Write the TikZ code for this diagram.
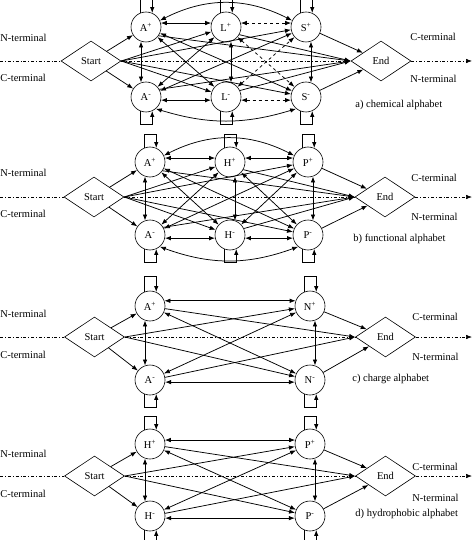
\documentclass[tikz,border=0pt]{standalone}
\usepackage{fontspec}
\setmainfont{Liberation Serif}
\usetikzlibrary{shapes.geometric,arrows.meta}

\begin{document}
\begin{tikzpicture}[x=1pt, y=-1pt, line width=0.75pt, >={Latex[length=6pt,width=4.5pt]},
  every node/.style = {font=\fontsize{10.5}{12}\selectfont},
  state/.style = {circle, draw, line width=0.6pt, minimum size=30pt, inner sep=0pt, fill=white},
  term/.style = {diamond, draw, line width=0.6pt, minimum width=60pt, minimum height=40pt, inner sep=0pt, fill=white},
  lbl/.style = {anchor=west, inner sep=0pt},
  tr/.style = {->}, bi/.style = {<->},
  midline/.style = {dash dot, line width=0.6pt}]
  \useasboundingbox (0,0) rectangle (474,540);

  % a) chemical alphabet
  \node[term] (aSt) at (91,61) {Start};
  \node[term] (aEn) at (381,61) {End};
  \node[state] (aAp) at (146,27) {A\textsuperscript{+}};
  \node[state] (aLp) at (226,27) {L\textsuperscript{+}};
  \node[state] (aSp) at (306,27) {S\textsuperscript{+}};
  \node[state] (aAm) at (146,97) {A\textsuperscript{-}};
  \node[state] (aLm) at (226,97) {L\textsuperscript{-}};
  \node[state] (aSm) at (306,97) {S\textsuperscript{-}};
  \coordinate (aL) at (0,61); \coordinate (aR) at (472,61);
  \draw[midline,->] (aL) -- (aSt.west) (aSt.east) -- (aEn.west) (aEn.east) -- (aR);
  \node[lbl] (aNl) at (0,38) {N-terminal};
  \node[lbl] (aCl) at (0,78) {C-terminal};
  \node[lbl] (aCr) at (410,37) {C-terminal};
  \node[lbl] (aNr) at (410,79) {N-terminal};
  \node[lbl] (aTitle) at (355,105) {a) chemical alphabet};
  \path[tr] (aSt) edge (aAp) edge (aAm);
  \path[tr] (aSt.east) edge (aLp) edge (aSp) edge (aLm) edge (aSm);
  \path[tr] (aAp.-35) edge (aEn.west) (aLp.-30) edge (aEn.west) (aAm.30) edge (aEn.west) (aLm.25) edge (aEn.west);
  \path[tr] (aSp) edge (aEn) (aSm) edge (aEn);
  \path[bi] (aAp.15) edge (aLp.165) (aAm.-12) edge (aLm.-168);
  \path[bi] (aAp.-109) edge (aAm.109) (aLp.-71) edge (aLm.71) (aSp.-71) edge (aSm.71);
  \path[bi] (aAp) edge (aLm) edge (aSm) (aAm) edge (aLp) edge (aSp);
  \path[bi,dashed] (aLp.15) edge (aSp.165) (aLm.-12) edge (aSm.-168) (aLp) edge (aSm) (aLm) edge (aSp);
  \path[bi] (aAp.25) edge[bend left=27] (aSp.155) (aAm.-50) edge[bend right=17] (aSm.-130);
  \draw[tr] (aAp.110) -- ++(0,-13) -| (aAp.66);
  \draw[tr] (aLp.110) -- ++(0,-13) -| (aLp.66);
  \draw[tr] (aSp.110) -- ++(0,-13) -| (aSp.66);
  \draw[tr] (aAm.-110) -- ++(0,13) -| (aAm.-66);
  \draw[tr] (aLm.-110) -- ++(0,13) -| (aLm.-66);
  \draw[tr] (aSm.-110) -- ++(0,13) -| (aSm.-66);

  % b) functional alphabet
  \node[term] (bSt) at (94,197) {Start};
  \node[term] (bEn) at (385,197) {End};
  \node[state] (bAp) at (150,162) {A\textsuperscript{+}};
  \node[state] (bHp) at (230,162) {H\textsuperscript{+}};
  \node[state] (bPp) at (308,162) {P\textsuperscript{+}};
  \node[state] (bAm) at (150,235) {A\textsuperscript{-}};
  \node[state] (bHm) at (230,235) {H\textsuperscript{-}};
  \node[state] (bPm) at (308,235) {P\textsuperscript{-}};
  \coordinate (bL) at (0,197); \coordinate (bR) at (472,197);
  \draw[midline,->] (bL) -- (bSt.west) (bSt.east) -- (bEn.west) (bEn.east) -- (bR);
  \node[lbl] (bNl) at (0,173) {N-terminal};
  \node[lbl] (bCl) at (0,214) {C-terminal};
  \node[lbl] (bCr) at (411,178) {C-terminal};
  \node[lbl] (bNr) at (411,217) {N-terminal};
  \node[lbl] (bTitle) at (353,239) {b) functional alphabet};
  \path[tr] (bSt) edge (bAp) edge (bAm);
  \path[tr] (bSt.east) edge (bHp) edge (bPp) edge (bHm) edge (bPm);
  \path[tr] (bAp.-35) edge (bEn.west) (bHp.-30) edge (bEn.west) (bAm.30) edge (bEn.west) (bHm.25) edge (bEn.west);
  \path[tr] (bPp) edge (bEn) (bPm) edge (bEn);
  \path[bi] (bAp.15) edge (bHp.165) (bHp.15) edge (bPp.165) (bAm.-12) edge (bHm.-168) (bHm.-12) edge (bPm.-168);
  \path[bi] (bAp.-109) edge (bAm.109) (bHp.-71) edge (bHm.71) (bPp.-71) edge (bPm.71);
  \path[bi] (bAp) edge (bHm) edge (bPm) (bAm) edge (bHp) edge (bPp) (bHp) edge (bPm) (bHm) edge (bPp);
  \path[bi] (bAp.25) edge[bend left=27] (bPp.155) (bAm.-50) edge[bend right=20] (bPm.-130);
  \draw[tr] (bAp.110) -- ++(0,-13) -| (bAp.66);
  \draw[tr] (bHp.110) -- ++(0,-13) -| (bHp.66);
  \draw[tr] (bPp.110) -- ++(0,-13) -| (bPp.66);
  \draw[tr] (bAm.-110) -- ++(0,13) -| (bAm.-66);
  \draw[tr] (bHm.-110) -- ++(0,13) -| (bHm.-66);
  \draw[tr] (bPm.-110) -- ++(0,13) -| (bPm.-66);

  % c) charge alphabet
  \node[term] (cSt) at (94.5,337) {Start};
  \node[term] (cEn) at (385.5,337) {End};
  \node[state] (cAp) at (150,306) {A\textsuperscript{+}};
  \node[state] (cNp) at (310,306) {N\textsuperscript{+}};
  \node[state] (cAm) at (150,380) {A\textsuperscript{-}};
  \node[state] (cNm) at (310,380) {N\textsuperscript{-}};
  \coordinate (cL) at (0,337); \coordinate (cR) at (472,337);
  \draw[midline,->] (cL) -- (cSt.west) (cSt.east) -- (cEn.west) (cEn.east) -- (cR);
  \node[lbl] (cNl) at (0,314) {N-terminal};
  \node[lbl] (cCl) at (0,355) {C-terminal};
  \node[lbl] (cCr) at (412,317) {C-terminal};
  \node[lbl] (cNr) at (412,357) {N-terminal};
  \node[lbl] (cTitle) at (352,379) {c) charge alphabet};
  \path[tr] (cSt) edge (cAp) edge (cAm);
  \path[tr] (cSt.east) edge (cNp) edge (cNm);
  \path[tr] (cAp.-10) edge (cEn.west) (cAm.10) edge (cEn.west);
  \path[tr] (cNp) edge (cEn) (cNm) edge (cEn);
  \path[bi] (cAp.20) edge (cNp.160) (cAm.-8) edge (cNm.-172);
  \path[bi] (cAp.-109) edge (cAm.109) (cNp.-71) edge (cNm.71);
  \path[bi] (cAp) edge (cNm) (cAm) edge (cNp);
  \draw[tr] (cAp.110) -- ++(0,-15) -| (cAp.66);
  \draw[tr] (cNp.110) -- ++(0,-15) -| (cNp.66);
  \draw[tr] (cAm.-110) -- ++(0,13) -| (cAm.-66);
  \draw[tr] (cNm.-110) -- ++(0,13) -| (cNm.-66);

  % d) hydrophobic alphabet
  \node[term] (dSt) at (94.5,476) {Start};
  \node[term] (dEn) at (385.5,476) {End};
  \node[state] (dHp) at (150,444) {H\textsuperscript{+}};
  \node[state] (dPp) at (310,444) {P\textsuperscript{+}};
  \node[state] (dHm) at (150,516) {H\textsuperscript{-}};
  \node[state] (dPm) at (310,516) {P\textsuperscript{-}};
  \coordinate (dL) at (0,476); \coordinate (dR) at (472,476);
  \draw[midline,->] (dL) -- (dSt.west) (dSt.east) -- (dEn.west) (dEn.east) -- (dR);
  \node[lbl] (dNl) at (0,454) {N-terminal};
  \node[lbl] (dCl) at (0,494) {C-terminal};
  \node[lbl] (dCr) at (412,467) {C-terminal};
  \node[lbl] (dNr) at (412,498) {N-terminal};
  \node[lbl] (dTitle) at (355,514) {d) hydrophobic alphabet};
  \path[tr] (dSt) edge (dHp) edge (dHm);
  \path[tr] (dSt.east) edge (dPp) edge (dPm);
  \path[tr] (dHp.-10) edge (dEn.west) (dHm.10) edge (dEn.west);
  \path[tr] (dPp) edge (dEn) (dPm) edge (dEn);
  \path[bi] (dHp.15) edge (dPp.165) (dHm.-8) edge (dPm.-172);
  \path[bi] (dHp.-109) edge (dHm.109) (dPp.-71) edge (dPm.71);
  \path[bi] (dHp) edge (dPm) (dHm) edge (dPp);
  \draw[tr] (dHp.110) -- ++(0,-13) -| (dHp.66);
  \draw[tr] (dPp.110) -- ++(0,-13) -| (dPp.66);
  \draw[tr] (dHm.-110) -- ++(0,13) -| (dHm.-66);
  \draw[tr] (dPm.-110) -- ++(0,13) -| (dPm.-66);
\end{tikzpicture}
\end{document}
